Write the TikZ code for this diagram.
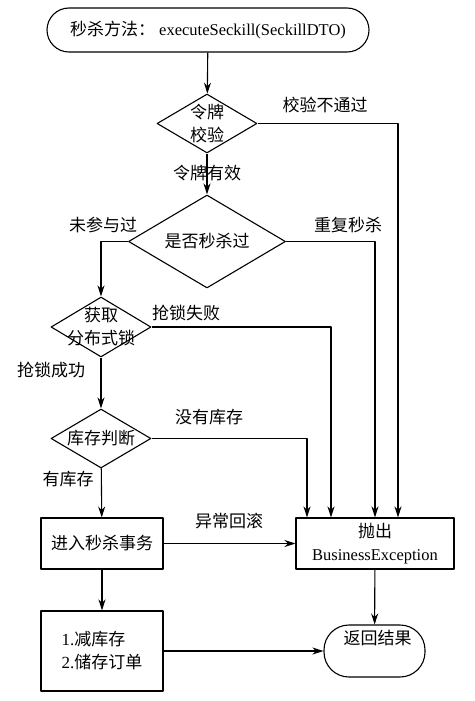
\documentclass[tikz,border=0pt]{standalone}
\usepackage{fontspec}
\setmainfont{Liberation Serif}
\newfontfamily\cjk{Noto Sans CJK SC}
\usetikzlibrary{arrows.meta,shapes.geometric}

\begin{document}
\begin{tikzpicture}[x=1pt,y=-1pt,line join=round,>={Stealth[length=11pt,width=7pt]},line width=1.1pt,
    font=\cjk\fontsize{17}{23}\selectfont]
        \tikzset{terminal/.style={draw,rectangle,inner sep=0pt},
                 decision/.style={draw,diamond,inner sep=0pt},
                 procbox/.style={draw,rectangle,inner sep=0pt},
                 txt/.style={inner sep=0pt,align=center},
                 lbl/.style={inner sep=0pt}}
        \useasboundingbox (0,0) rectangle (474,701);
        % start
        \node[terminal,rounded corners=22pt,minimum width=322pt,minimum height=44pt] (start) at (208,30)
            {秒杀方法：{\rmfamily\fontsize{16.5}{23}\selectfont\ executeSeckill(SeckillDTO)}};
        % decisions
        \node[decision,minimum width=100pt,minimum height=59pt] (token) at (207,123.5) {};
        \node[txt] (tokentxt) at (token) {令牌\\校验};
        \node[decision,minimum width=157pt,minimum height=93pt] (check) at (207,241.5) {};
        \node[txt] (checktxt) at (check) {是否秒杀过};
        \node[decision,minimum width=100pt,minimum height=60pt] (lock) at (101,327) {};
        \node[txt] (locktxt) at (lock) {获取\\分布式锁};
        \node[decision,minimum width=100pt,minimum height=59pt] (stock) at (101,438.5) {};
        \node[txt] (stocktxt) at (stock) {库存判断};
        % boxes
        \node[procbox,minimum width=122pt,minimum height=51pt] (trans) at (102,543.5) {进入秒杀事务};
        \node[procbox,minimum width=122pt,minimum height=80pt,align=left] (order) at (102,651)
            {{\rmfamily 1.}减库存\\{\rmfamily 2.}储存订单};
        \node[procbox,minimum width=158pt,minimum height=51pt,align=center] (exc) at (375,543.5)
            {抛出\\{\rmfamily\fontsize{16.5}{23}\selectfont BusinessException}};
        \node[terminal,rounded corners=25pt,minimum width=101pt,minimum height=52pt] (result) at (374.5,651) {};
        \node[txt] (resulttxt) at ([shift={(3,-13)}]result.center) {返回结果};
        % connectors
        \draw[->] (start) -- (token);
        \draw[->] (token) -- (check);
        \draw[->] (token.east) -| ([xshift=23pt]exc.north);
        \draw[->] (check.east) -| (exc.north);
        \draw[->] (check.west) -| (lock.north);
        \draw[->] (lock.east) -| ([xshift=-44pt]exc.north);
        \draw[->] (lock) -- (stock);
        \draw[->] (stock.east) -| ([xshift=-68pt]exc.north);
        \draw[->] (stock) -- (trans);
        \draw[->] (trans) -- (exc);
        \draw[->] (trans) -- (order);
        \draw[->] (order) -- (result);
        \draw[->] (exc) -- (result);
        % labels
        \node[lbl] (l1) at (325,105) {校验不通过};
        \node[lbl] (l2) at (207,173) {令牌有效};
        \node[lbl] (l3) at (103,225) {未参与过};
        \node[lbl] (l4) at (348,225) {重复秒杀};
        \node[lbl] (l5) at (186,313) {抢锁失败};
        \node[lbl] (l6) at (51,370) {抢锁成功};
        \node[lbl] (l7) at (209,417) {没有库存};
        \node[lbl] (l8) at (68,479) {有库存};
        \node[lbl] (l9) at (229,521) {异常回滚};
\end{tikzpicture}
\end{document}
